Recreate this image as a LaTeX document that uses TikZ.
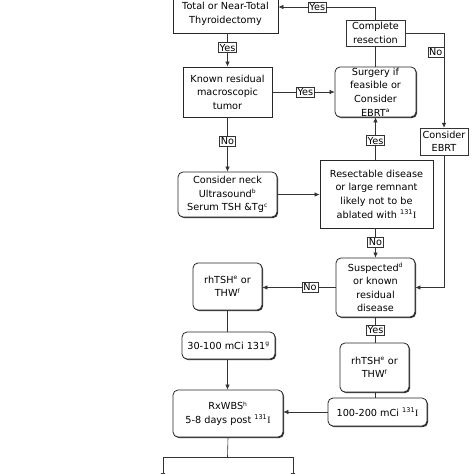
\documentclass[tikz,border=0pt]{standalone}
\usepackage{fontspec}
\setmainfont{DejaVu Sans}
\newfontfamily\serifI{Liberation Serif}
\usetikzlibrary{arrows.meta,shadows}
\tikzset{
  box/.style={draw=black!85, line width=0.8pt, fill=white, align=center, inner sep=0pt,
    font=\fontsize{9.7}{13.6}\selectfont,
    drop shadow={shadow xshift=1.1pt, shadow yshift=-1.1pt, fill=black!80, opacity=1}},
  sqbox/.style={box},
  rbox/.style={box, rounded corners=5pt},
  thinbox/.style={draw=black!80, line width=0.5pt, fill=white, align=center, inner sep=0pt,
    font=\fontsize{9.7}{13.6}\selectfont},
  lbl/.style={draw=black!80, line width=0.5pt, fill=white, inner sep=1.4pt,
    font=\fontsize{9.7}{11}\selectfont},
  conn/.style={draw=black!80, line width=0.6pt},
  arr/.style={conn, -{Latex[length=5pt,width=4.5pt]}},
}
\newcommand{\sups}[1]{\textsuperscript{\fontsize{6}{6}\selectfont #1}}
\newcommand{\iodine}{\textsuperscript{\fontsize{6.5}{6.5}\selectfont 131}{\serifI I}}
\begin{document}
\begin{tikzpicture}[x=1pt,y=-1pt]
\useasboundingbox (0,0) rectangle (474,474);
\clip (0,0) rectangle (474,474);
% nodes
\node[sqbox, minimum width=105pt, minimum height=38pt] (top) at (225.5,14) {Total or Near-Total\\Thyroidectomy};
\node[thinbox, minimum width=59pt, minimum height=26pt] (cr) at (375.5,33) {Complete\\resection};
\node[rbox, minimum width=81pt, minimum height=50pt] (surg) at (375.5,92) {Surgery if\\feasible or\\Consider\\EBRT\sups{a}};
\node[sqbox, minimum width=89pt, minimum height=50pt] (known) at (227.5,92) {Known residual\\macroscopic\\tumor};
\node[rbox, minimum width=99pt, minimum height=45pt] (neck) at (227.5,194.5) {Consider neck\\Ultrasound\sups{b}\\Serum TSH \&Tg\sups{c}};
\node[sqbox, minimum width=113pt, minimum height=68pt] (resect) at (376.5,194) {Resectable disease\\or large remnant\\likely not to be\\ablated with \iodine};
\node[thinbox, minimum width=48pt, minimum height=27pt] (ebrt) at (444,141.5) {Consider\\EBRT};
\node[rbox, minimum width=79pt, minimum height=59pt] (susp) at (375.5,287.5) {Suspected\sups{d}\\or known\\residual\\disease};
\node[rbox, minimum width=69pt, minimum height=47pt] (rh1) at (227.5,286.5) {rhTSH\sups{e} or\\THW\sups{f}};
\node[rbox, minimum width=93pt, minimum height=27pt] (mci1) at (228.5,345.5) {30-100 mCi 131\sups{g}};
\node[rbox, minimum width=110pt, minimum height=47pt] (rx) at (228,413.5) {RxWBS\sups{h}\\5-8 days post \iodine};
\node[rbox, minimum width=69pt, minimum height=49pt] (rh2) at (374.5,367.5) {rhTSH\sups{e} or\\THW\sups{f}};
\node[rbox, minimum width=99pt, minimum height=28pt] (mci2) at (377.5,412) {100-200 mCi \iodine};
\coordinate (ty) at (0,7);
\coordinate (bj) at (227.5,457);
\coordinate (bl) at (163,457);
\coordinate (br) at (293,457);
\coordinate (el) at (163,478);
\coordinate (er) at (293,478);
% connectors
\draw[arr] (cr.north) |- (top.east |- ty) node[lbl, pos=0.8] {Yes};
\draw[arr] (cr.east) -| (ebrt.north) node[lbl, pos=0.6, anchor=east] {No};
\draw[conn] (cr.south) -- (cr.south |- surg.north);
\draw[arr] (known.north |- top.south) -- (known.north) node[lbl, pos=0.43] {Yes};
\draw[arr] (known.east) -- (known.east -| surg.west) node[lbl, pos=0.53] {Yes};
\draw[arr] (known.south) -- (neck.north) node[lbl, pos=0.44] {No};
\draw[arr] (neck.east) -- (neck.east -| resect.west);
\draw[arr] (cr.south |- resect.north) -- (cr.south |- surg.south) node[lbl, pos=0.45] {Yes};
\draw[arr] (ebrt.south) |- (susp.east);
\draw[arr] (susp.north |- resect.south) -- (susp.north) node[lbl, pos=0.48] {No};
\draw[arr] (susp.west) -- (susp.west -| rh1.east) node[lbl, pos=0.35] {No};
\draw[conn] (rh1.south) -- (rh1.south |- mci1.north);
\draw[arr] (rh1.south |- mci1.south) -- (rh1.south |- rx.north);
\draw[conn] (susp.south) -- (susp.south |- rh2.north) node[lbl, pos=0.52] {Yes};
\draw[conn] (susp.south |- rh2.south) -- (susp.south |- mci2.north);
\draw[arr] (mci2.west) -- (rx.east |- mci2.west);
\draw[conn] (rx.south) -- (bj);
\draw[conn] (bl) -- (br);
\draw[arr] (bl) -- (el);
\draw[arr] (br) -- (er);
\end{tikzpicture}
\end{document}
